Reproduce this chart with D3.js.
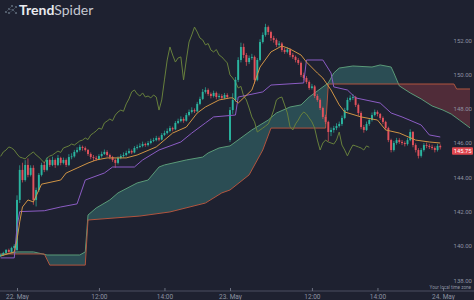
<!DOCTYPE html>
<html>
<head>
<meta charset="utf-8">
<script src="https://cdn.jsdelivr.net/npm/d3@7/dist/d3.min.js"></script>
<style>
  html, body { margin: 0; padding: 0; background: #1e2130; }
  svg { display: block; font-family: Lato, "Noto Sans", sans-serif; }
</style>
</head>
<body>
<div id="chart-area"></div>
<script>
// 5 min candles, index 6 = 22 May 09:30, index 84 = 23 May 09:30, index 162 = 24 May 09:30
var opens = [139.40,139.47,139.59,139.76,139.65,139.88,139.76,142.68,144.43,143.84,
  144.72,144.14,144.55,142.68,143.26,144.14,144.72,144.43,145.01,144.72,
  145.01,144.72,145.13,144.84,145.01,144.72,145.18,145.22,145.48,145.59,
  145.77,145.71,145.59,145.36,145.18,145.13,145.07,145.24,145.36,145.48,
  145.30,145.18,145.01,144.84,145.13,145.24,145.30,145.42,145.53,145.45,
  145.71,145.77,145.83,145.94,145.88,146.00,146.12,146.17,146.29,146.20,
  146.47,146.58,146.70,146.87,146.80,147.17,147.28,147.40,147.30,147.63,
  147.81,147.92,147.85,148.28,148.57,148.98,149.09,148.86,148.74,148.92,
  148.68,148.74,148.63,148.80,146.17,147.92,148.51,149.68,150.84,151.60,
  151.13,150.72,150.96,151.02,149.68,150.84,151.89,152.30,152.76,152.47,
  152.12,152.01,151.72,151.80,151.42,151.31,151.45,151.13,151.02,150.84,
  150.67,149.97,149.79,149.56,149.21,149.30,148.74,148.51,148.04,147.52,
  147.23,146.64,146.76,146.87,146.99,147.11,147.46,147.92,148.51,148.63,
  148.68,148.22,147.75,146.93,146.76,147.11,147.34,147.63,147.81,147.69,
  147.46,147.23,146.87,146.17,145.59,146.00,146.17,146.06,146.00,145.94,
  146.17,146.64,145.88,145.59,145.25,145.59,145.88,145.83,145.77,145.71,
  145.59,145.83];
var closes = [139.47,139.59,139.76,139.65,139.88,140.00,142.68,144.43,143.84,144.72,
  144.14,144.55,142.68,143.26,144.14,144.72,144.43,145.01,144.72,145.01,
  144.72,145.13,144.84,145.01,144.72,145.18,145.22,145.48,145.59,145.77,
  145.71,145.59,145.36,145.18,145.13,145.07,145.24,145.36,145.48,145.30,
  145.18,145.01,144.84,145.13,145.24,145.30,145.42,145.53,145.45,145.71,
  145.77,145.83,145.94,145.88,146.00,146.12,146.17,146.29,146.20,146.47,
  146.58,146.70,146.87,146.80,147.17,147.28,147.40,147.30,147.63,147.81,
  147.92,147.85,148.28,148.57,148.98,149.09,148.86,148.74,148.92,148.68,
  148.74,148.63,148.80,148.68,147.92,148.51,149.68,150.84,151.60,151.13,
  150.72,150.96,151.02,149.68,150.84,151.89,152.30,152.76,152.47,152.12,
  152.01,151.72,151.80,151.42,151.31,151.45,151.13,151.02,150.84,150.67,
  149.97,149.79,149.56,149.21,149.30,148.74,148.51,148.04,147.52,147.23,
  146.64,146.76,146.87,146.99,147.11,147.46,147.92,148.51,148.63,148.68,
  148.22,147.75,146.93,146.76,147.11,147.34,147.63,147.81,147.69,147.46,
  147.23,146.87,146.17,145.59,146.00,146.17,146.06,146.00,145.94,146.17,
  146.64,145.88,145.59,145.25,145.59,145.88,145.83,145.77,145.71,145.59,
  145.83,145.75];
var highs = [139.55,139.66,139.82,139.84,139.95,140.10,142.95,144.70,144.85,145.00,
  145.10,144.70,144.70,143.40,144.25,144.85,144.90,145.15,145.10,145.20,
  145.10,145.30,145.20,145.15,145.10,145.35,145.40,145.60,145.75,145.90,
  145.85,145.80,145.65,145.45,145.30,145.25,145.35,145.50,145.62,145.58,
  145.38,145.25,145.10,145.22,145.35,145.45,145.55,145.68,145.62,145.82,
  145.90,145.98,146.08,146.02,146.12,146.25,146.30,146.42,146.38,146.58,
  146.72,146.85,147.00,146.95,147.28,147.42,147.55,147.50,147.75,147.95,
  148.08,148.02,148.40,148.70,149.15,149.25,149.18,148.95,149.05,149.00,
  148.88,148.85,148.92,148.90,148.10,148.90,149.85,151.00,151.85,151.80,
  151.25,151.10,151.20,151.10,150.95,152.05,152.45,152.95,152.85,152.55,
  152.25,152.10,151.95,151.88,151.55,151.58,151.52,151.25,151.10,150.95,
  150.75,150.10,149.90,149.65,149.45,149.38,148.85,148.60,148.12,147.65,
  147.30,146.90,147.00,147.15,147.25,147.60,148.05,148.65,148.78,148.85,
  148.75,148.30,147.85,147.05,147.25,147.45,147.78,147.95,147.90,147.75,
  147.55,147.30,146.95,146.25,146.12,146.30,146.28,146.18,146.10,146.30,
  146.80,146.70,145.98,145.70,145.70,146.00,146.02,145.95,145.90,145.80,
  145.95,145.92];
var lows = [139.35,139.42,139.55,139.60,139.61,139.83,139.70,142.50,143.70,143.75,
  144.00,144.05,142.40,142.30,143.15,144.05,144.30,144.35,144.60,144.65,
  144.55,144.65,144.70,144.75,144.60,144.65,145.05,145.15,145.40,145.50,
  145.55,145.50,145.25,145.05,144.95,144.95,145.00,145.15,145.30,145.20,
  145.05,144.90,144.55,144.75,145.05,145.15,145.22,145.35,145.35,145.40,
  145.62,145.70,145.75,145.78,145.80,145.92,146.05,146.10,146.10,146.15,
  146.40,146.50,146.62,146.68,146.75,147.10,147.20,147.18,147.25,147.55,
  147.72,147.75,147.80,148.20,148.50,148.88,148.75,148.60,148.65,148.55,
  148.58,148.52,148.55,148.58,146.05,147.70,148.40,149.55,150.70,150.95,
  150.50,150.60,150.85,149.45,149.60,150.75,151.80,152.20,152.30,151.95,
  151.85,151.60,151.60,151.30,151.20,151.22,151.00,150.90,150.70,150.55,
  149.85,149.65,149.45,149.10,149.12,148.62,148.40,147.92,147.40,147.10,
  146.10,146.40,146.60,146.75,146.90,147.00,147.38,147.85,148.40,148.50,
  148.10,147.60,146.80,146.60,146.70,147.00,147.25,147.55,147.55,147.35,
  147.10,146.75,146.05,145.45,145.50,145.90,145.95,145.88,145.80,145.85,
  146.10,145.75,145.45,145.10,145.15,145.50,145.70,145.65,145.60,145.45,
  145.50,145.62];

// ichimoku lines: [candle index, price]
var tenkan = [[0,139.41],[5,139.65],[6,140.35],[7,141.40],[8,142.27],[10,142.68],[12,142.56],[15,143.60],
  [22,143.84],[24,144.25],[28,144.54],[32,144.83],[35,145.01],[39,145.13],[46,145.13],[50,145.30],
  [57,145.77],[63,146.58],[68,146.93],[72,147.75],[75,148.10],[80,148.51],[84,148.63],[85,148.63],
  [87,148.33],[92,149.09],[95,150.43],[99,151.31],[103,151.66],[106,151.48],[110,151.13],[112,150.72],
  [116,150.08],[118,149.79],[121,149.09],[124,148.22],[126,147.81],[132,147.52],[138,147.34],
  [141,146.76],[146,146.58],[152,146.17],[157,146.06],[161,146.00]];
var kijun = [[0,139.30],[5,139.30],[6,141.10],[7,142.00],[16,142.05],[22,142.27],[28,142.45],[31,143.84],
  [38,144.25],[41,144.60],[49,144.60],[52,145.01],[58,145.59],[66,146.06],[70,146.58],[75,147.17],
  [78,147.52],[86,147.63],[87,148.68],[96,148.98],[99,149.38],[111,149.50],[112,150.84],[118,150.84],
  [121,150.08],[122,149.27],[127,149.09],[130,148.63],[139,148.33],[143,147.75],[147,147.52],
  [154,147.05],[157,146.47],[161,146.35]];
var spanA = [[0,139.47],[6,139.65],[12,139.65],[17,139.47],[29,139.47],[31,139.65],[32,141.80],[35,142.21],
  [40,142.68],[43,143.09],[50,143.67],[54,143.84],[58,144.60],[60,144.72],[68,145.01],[74,145.18],
  [76,145.42],[80,145.71],[84,145.83],[92,146.76],[98,147.34],[101,147.75],[106,148.10],[110,148.22],
  [113,148.68],[120,149.50],[122,150.08],[124,150.37],[129,150.49],[136,150.43],[139,150.55],
  [143,150.43],[144,150.08],[146,149.33],[150,148.92],[154,148.57],[158,148.16],[162,147.92],
  [165,147.69],[168,147.34],[172,146.87],[187,146.30]];
var spanB = [[0,139.53],[16,139.53],[18,138.88],[31,138.88],[32,141.51],[51,141.74],[62,141.98],[75,142.50],
  [81,143.09],[84,143.26],[91,144.14],[96,145.59],[99,146.87],[119,146.87],[120,149.44],[166,149.44],
  [167,149.15],[187,149.15]];
var laggingShift = 26;

var yTicks = [138, 140, 142, 144, 146, 148, 150, 152];
var xTickIdx = [6, 36, 60, 84, 114, 138, 162];
var xTickLabels = ["22. May", "12:00", "14:00", "23. May", "12:00", "14:00", "24. May"];

var width = 474, height = 300;
var plotRight = 470, plotTop = 18, plotBottom = 290;

var svg = d3.select("#chart-area").append("svg")
    .attr("width", width)
    .attr("height", height);

svg.append("rect").attr("width", width).attr("height", height).attr("fill", "#1e2130");

var x = d3.scaleLinear().domain([6, 162]).range([17, 443]);
var y = d3.scaleLinear().domain([138, 152]).range([280.2, 40.1]);

var defs = svg.append("defs");
defs.append("clipPath").attr("id", "plot-clip")
  .append("rect").attr("x", 0).attr("y", plotTop).attr("width", plotRight).attr("height", plotBottom - plotTop);

var pts = (arr) => arr.map((d) => [x(d[0]), y(d[1])]);
var bPts = pts(spanB);
var aPts = pts(spanA);
var lineStr = (p) => "M" + p.map((d) => d[0] + "," + d[1]).join("L");

defs.append("clipPath").attr("id", "above-b")
  .append("path").attr("d", lineStr(bPts) + "L" + bPts[bPts.length - 1][0] + ",0L" + bPts[0][0] + ",0Z");
defs.append("clipPath").attr("id", "below-b")
  .append("path").attr("d", lineStr(bPts) + "L" + bPts[bPts.length - 1][0] + "," + height + "L" + bPts[0][0] + "," + height + "Z");

var g = svg.append("g").attr("clip-path", "url(#plot-clip)");

// cloud
var band = lineStr(aPts) + "L" + bPts.slice().reverse().map((d) => d[0] + "," + d[1]).join("L") + "Z";
g.append("g").attr("clip-path", "url(#above-b)")
  .append("path").attr("d", band).attr("fill", "rgba(70,165,155,0.34)");
g.append("g").attr("clip-path", "url(#below-b)")
  .append("path").attr("d", band).attr("fill", "rgba(200,70,80,0.30)");

var line = d3.line().x((d) => x(d[0])).y((d) => y(d[1]));
g.append("path").datum(spanA).attr("d", line).attr("fill", "none").attr("stroke", "#5a9a78").attr("stroke-width", 1);
g.append("path").datum(spanB).attr("d", line).attr("fill", "none").attr("stroke", "#b0553f").attr("stroke-width", 1);

// lagging span = closes drawn 26 candles back
var lagging = closes.map((c, i) => [i - laggingShift, c]).filter((d) => d[0] >= 0);
g.append("path").datum(lagging).attr("d", line).attr("fill", "none").attr("stroke", "#67803c").attr("stroke-width", 1);

// candles
var candles = g.append("g");
var bodyW = 1.9;
closes.forEach((c, i) => {
  var o = opens[i], up = c >= o, col = up ? "#2bb5a0" : "#e2525c";
  var cx = x(i);
  candles.append("line")
    .attr("x1", cx).attr("x2", cx)
    .attr("y1", y(highs[i])).attr("y2", y(lows[i]))
    .attr("stroke", col).attr("stroke-width", 0.7);
  var top = y(Math.max(o, c)), bot = y(Math.min(o, c));
  candles.append("rect")
    .attr("x", cx - bodyW / 2).attr("width", bodyW)
    .attr("y", top).attr("height", Math.max(0.8, bot - top))
    .attr("fill", col);
});

g.append("path").datum(kijun).attr("d", line).attr("fill", "none").attr("stroke", "#8b5cc4").attr("stroke-width", 1);
g.append("path").datum(tenkan).attr("d", line).attr("fill", "none").attr("stroke", "#cf9445").attr("stroke-width", 1);

// y axis
var yAxisCall = d3.axisLeft(y).tickValues(yTicks).tickSize(0).tickPadding(0).tickFormat(d3.format(".2f"));
var yAxis = svg.append("g").attr("transform", "translate(472, 0)").call(yAxisCall);
yAxis.select(".domain").remove();
yAxis.selectAll("text").attr("fill", "#8d92a0").attr("font-size", "6px").attr("font-family", "Roboto, sans-serif");

// last price label
var last = closes[closes.length - 1];
var labelY = y(last) + 3.6;
svg.append("rect").attr("x", 452).attr("y", labelY - 3.6).attr("width", 21).attr("height", 7.4)
  .attr("rx", 1).attr("fill", "#e0474f");
svg.append("text").attr("x", 471.5).attr("y", labelY).attr("dy", "0.34em")
  .attr("text-anchor", "end").attr("fill", "#ffffff").attr("font-size", "5.8px")
  .attr("font-family", "Roboto, sans-serif").text(last.toFixed(2));

// x axis
svg.append("line").attr("x1", 0).attr("x2", width).attr("y1", 291).attr("y2", 291)
  .attr("stroke", "#4a4f60").attr("stroke-width", 1);
var xAxisCall = d3.axisBottom(x).tickValues(xTickIdx).tickSizeInner(-3).tickSizeOuter(0).tickPadding(3)
  .tickFormat((d, i) => xTickLabels[i]);
var xAxis = svg.append("g").attr("transform", "translate(0, 291)").call(xAxisCall);
xAxis.select(".domain").remove();
xAxis.selectAll(".tick line").attr("stroke", "#6b7080");
xAxis.selectAll("text").attr("fill", "#8d92a0").attr("font-size", "6.5px").attr("font-family", "Roboto, sans-serif");

svg.append("text").attr("x", 471).attr("y", 289).attr("text-anchor", "end")
  .attr("fill", "#8d92a0").attr("font-size", "4.6px").attr("font-family", "Roboto, sans-serif")
  .text("Your local time zone");

// logo
var logo = svg.append("g").attr("transform", "translate(4, 4)");
[[2, 8], [5, 5], [8, 2], [5, 9], [9, 6], [12, 3], [12, 9]].forEach((p) => {
  logo.append("circle").attr("cx", p[0]).attr("cy", p[1]).attr("r", 1.1).attr("fill", "#5f6b7a");
});
logo.append("path").attr("d", "M2,8L5,5L8,2M5,9L9,6L12,3M5,5L9,6L12,9").attr("stroke", "#4c5766").attr("stroke-width", 0.6).attr("fill", "none");
var logoText = svg.append("text").attr("x", 19).attr("y", 15).attr("font-size", "14px")
  .attr("font-family", "Lato, 'Noto Sans', sans-serif");
logoText.append("tspan").attr("font-weight", 700).attr("fill", "#e9eaef").text("Trend");
logoText.append("tspan").attr("font-weight", 400).attr("fill", "#c5c8d0").text("Spider");
</script>
</body>
</html>
